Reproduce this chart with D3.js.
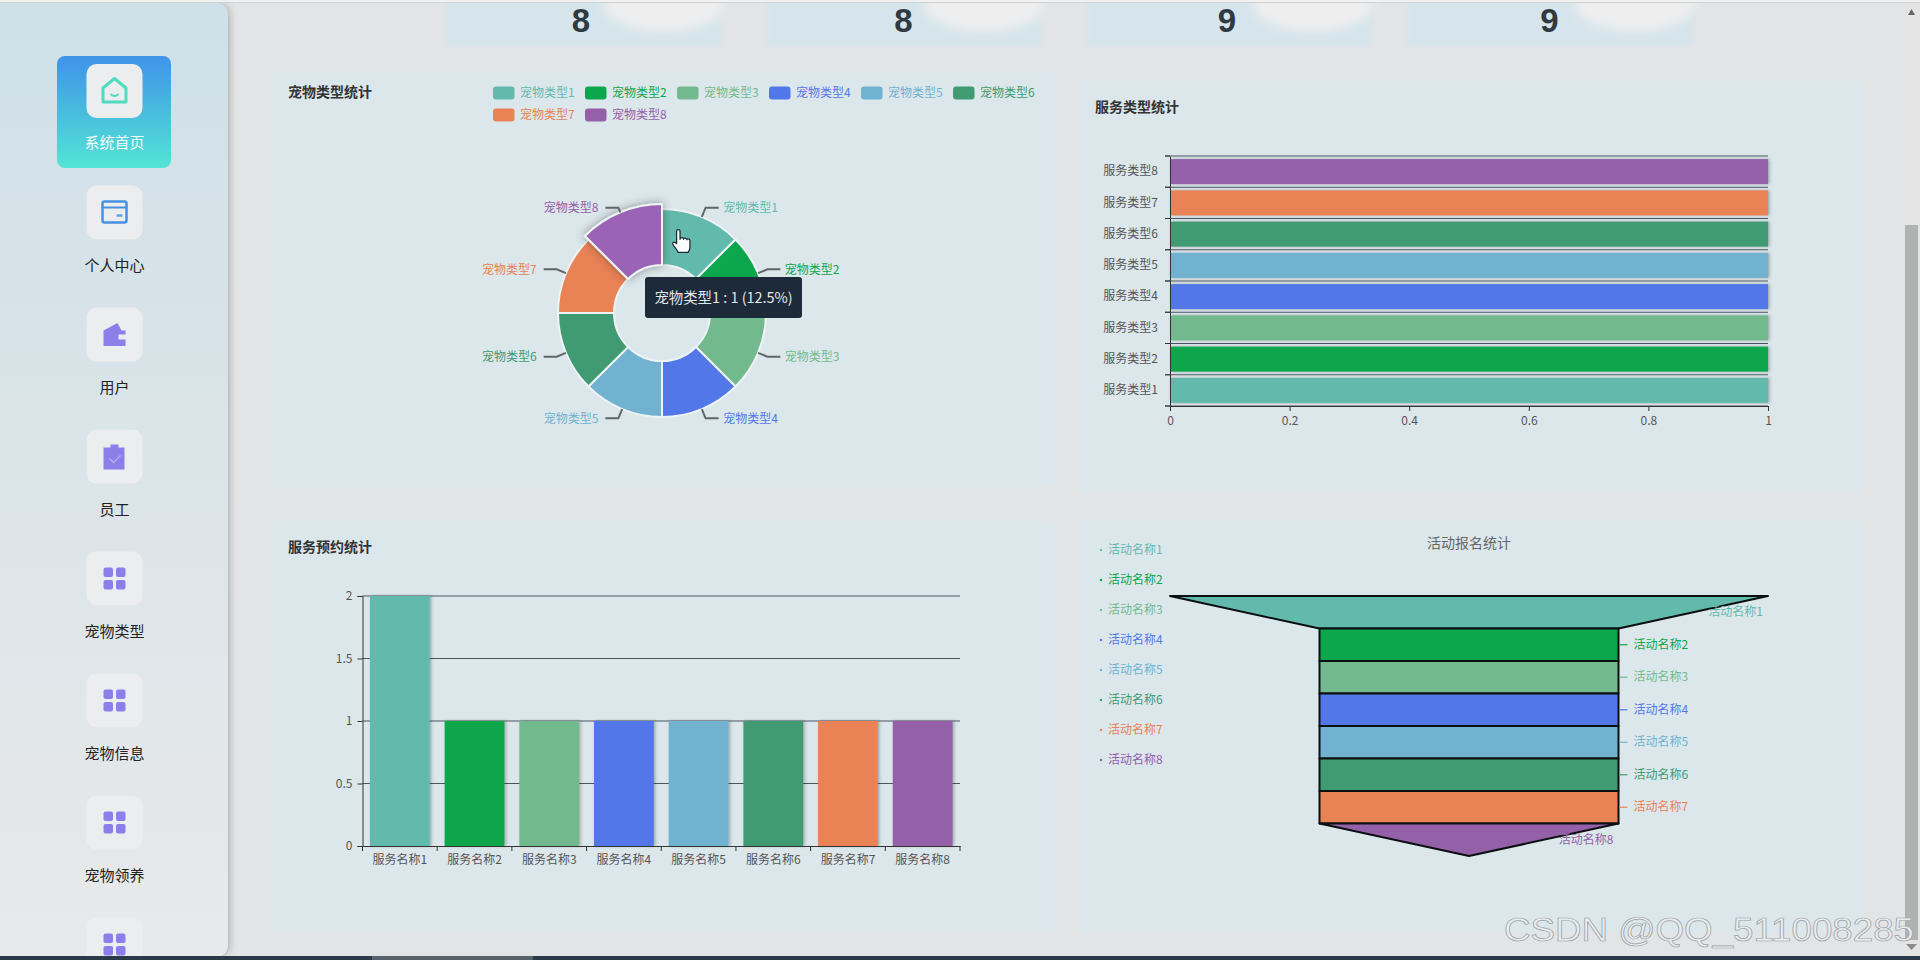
<!DOCTYPE html>
<html>
<head>
<meta charset="utf-8">
<title>宠物管理系统 - 首页</title>
<script src="https://cdnjs.cloudflare.com/ajax/libs/d3/7.8.5/d3.min.js"></script>
<style>
    html, body { margin: 0; padding: 0; width: 1920px; height: 960px; overflow: hidden; background: #e3e4e5; }
    svg { display: block; }
    text { font-family: "Noto Sans CJK SC", "Noto Sans", sans-serif; }
    .axis-label { font-size: 12px; fill: #555; }
    .card-title { font-size: 14px; font-weight: 700; fill: #333; }
</style>
</head>
<body>
<div id="page"></div>
<script>
// --- 1. Data ---
const menuNames = ['系统首页', '个人中心', '用户', '员工', '宠物类型', '宠物信息', '宠物领养', ''];
const statValues = [8, 8, 9, 9];

const petTypeNames = ['宠物类型1', '宠物类型2', '宠物类型3', '宠物类型4', '宠物类型5', '宠物类型6', '宠物类型7', '宠物类型8'];
const petTypeValues = [1, 1, 1, 1, 1, 1, 1, 1];

const serviceTypeNames = ['服务类型1', '服务类型2', '服务类型3', '服务类型4', '服务类型5', '服务类型6', '服务类型7', '服务类型8'];
const serviceTypeValues = [1, 1, 1, 1, 1, 1, 1, 1];
const serviceTypeTicks = [0, 0.2, 0.4, 0.6, 0.8, 1];

const bookingNames = ['服务名称1', '服务名称2', '服务名称3', '服务名称4', '服务名称5', '服务名称6', '服务名称7', '服务名称8'];
const bookingValues = [2, 1, 1, 1, 1, 1, 1, 1];
const bookingTicks = [0, 0.5, 1, 1.5, 2];

const activityNames = ['活动名称1', '活动名称2', '活动名称3', '活动名称4', '活动名称5', '活动名称6', '活动名称7', '活动名称8'];
const activityValues = [2, 1, 1, 1, 1, 1, 1, 1];

const palette = ['#62baac', '#0ca64c', '#72ba8d', '#5277e8', '#70b2d0', '#409a72', '#e98254', '#9460a8'];

// --- 2. Page setup ---
const width = 1920;
const height = 960;
const svg = d3.select('#page').append('svg').attr('width', width).attr('height', height);
const defs = svg.append('defs');

function verticalGradient(id, top, bottom) {
    const g = defs.append('linearGradient').attr('id', id)
        .attr('x1', 0).attr('y1', 0).attr('x2', 0).attr('y2', 1);
    g.append('stop').attr('offset', '0%').attr('stop-color', top);
    g.append('stop').attr('offset', '100%').attr('stop-color', bottom);
}
verticalGradient('sideFill', '#cfe0e8', '#e8e9ea');
verticalGradient('activeFill', '#4093ea', '#52e5d4');

function blurFilter(id, dev) {
    defs.append('filter').attr('id', id)
        .attr('x', '-20%').attr('y', '-40%').attr('width', '140%').attr('height', '180%')
        .append('feGaussianBlur').attr('stdDeviation', dev);
}
blurFilter('soft', 2);
blurFilter('softer', 5);

function shadowFilter(id, dx, dy, dev, opacity) {
    defs.append('filter').attr('id', id)
        .attr('x', '-30%').attr('y', '-30%').attr('width', '160%').attr('height', '160%')
        .append('feDropShadow')
        .attr('dx', dx).attr('dy', dy).attr('stdDeviation', dev)
        .attr('flood-color', '#333').attr('flood-opacity', opacity);
}
shadowFilter('barShadow', 1.5, 0, 1.6, 0.38);
shadowFilter('sliceShadow', 0, 0, 4, 0.5);
shadowFilter('sideShadow', 2, 0, 3, 0.28);

svg.append('rect').attr('width', width).attr('height', height).attr('fill', '#e3e4e5');

// --- 3. Top stat tiles ---
const tileSpans = [[446, 722], [767, 1042], [1087, 1371], [1408, 1693]];
const tileNudge = [-3, -1, -2, -1];
const tiles = svg.append('g').selectAll('g').data(statValues).join('g');
tiles.append('rect')
    .attr('x', (d, i) => tileSpans[i][0])
    .attr('y', -6)
    .attr('width', (d, i) => tileSpans[i][1] - tileSpans[i][0])
    .attr('height', 53)
    .attr('fill', '#d6e5ec')
    .attr('filter', 'url(#soft)');
tiles.append('ellipse')
    .attr('cx', (d, i) => tileSpans[i][1] - 58)
    .attr('cy', 4)
    .attr('rx', 60)
    .attr('ry', 27)
    .attr('fill', '#eeeeef')
    .attr('filter', 'url(#softer)');
tiles.append('text')
    .attr('x', (d, i) => (tileSpans[i][0] + tileSpans[i][1]) / 2 + tileNudge[i])
    .attr('y', 32)
    .attr('text-anchor', 'middle')
    .attr('font-size', 33)
    .attr('font-weight', 700)
    .attr('fill', '#2f3a42')
    .style('font-family', '"Liberation Sans", sans-serif')
    .text(d => d);

// --- 4. Cards ---
const cards = [
    { x: 270, y: 70, w: 785, h: 417 },
    { x: 1078, y: 81, w: 785, h: 412 },
    { x: 270, y: 520, w: 785, h: 413 },
    { x: 1078, y: 520, w: 785, h: 413 }
];
svg.append('g').selectAll('rect').data(cards).join('rect')
    .attr('x', d => d.x).attr('y', d => d.y)
    .attr('width', d => d.w).attr('height', d => d.h)
    .attr('fill', '#dce7ec')
    .attr('filter', 'url(#soft)');

function cardTitle(x, y, label) {
    svg.append('text').attr('class', 'card-title').attr('x', x).attr('y', y)
        .attr('dy', '0.35em').text(label);
}

// --- 5. Pet type donut ---
cardTitle(288, 92, '宠物类型统计');

const legendX = d3.scalePoint().domain(d3.range(6)).range([493, 953]);
const legend = svg.append('g').selectAll('g').data(petTypeNames).join('g')
    .attr('transform', (d, i) => `translate(${legendX(i % 6)},${i < 6 ? 93 : 115})`);
legend.append('rect')
    .attr('y', -6.5).attr('width', 21.5).attr('height', 13).attr('rx', 3)
    .attr('fill', (d, i) => palette[i]);
legend.append('text')
    .attr('x', 27).attr('dy', '0.35em').attr('font-size', 12)
    .attr('fill', (d, i) => palette[i])
    .text(d => d);

const pieCx = 662;
const pieCy = 313;
const innerR = 48;
const outerR = 104;
const hoverIndex = 7; // the enlarged slice in the screenshot
const pieSlices = d3.pie().sort(null)(petTypeValues);
const sliceOuter = i => (i === hoverIndex ? outerR + 5 : outerR);
const arcPath = d3.arc().innerRadius(innerR).outerRadius((d) => sliceOuter(d.index));

const pieGroup = svg.append('g').attr('transform', `translate(${pieCx},${pieCy})`);
pieGroup.selectAll('path').data(pieSlices).join('path')
    .attr('d', arcPath)
    .attr('fill', d => (d.index === hoverIndex ? '#9b63b5' : palette[d.index]))
    .attr('stroke', '#eef3f4')
    .attr('stroke-width', 2)
    .attr('filter', d => (d.index === hoverIndex ? 'url(#sliceShadow)' : null));
// hovered slice goes on top of its neighbours
pieGroup.selectAll('path').filter(d => d.index === hoverIndex).raise();

const leaders = pieGroup.append('g').selectAll('g').data(pieSlices).join('g');
function polar(angle, r) {
    return [Math.sin(angle) * r, -Math.cos(angle) * r];
}
leaders.append('path')
    .attr('fill', 'none')
    .attr('stroke', '#5f6669')
    .attr('stroke-width', 2)
    .attr('d', d => {
        const mid = (d.startAngle + d.endAngle) / 2;
        const side = Math.sin(mid) > 0 ? 1 : -1;
        const p0 = polar(mid, sliceOuter(d.index));
        const p1 = polar(mid, outerR + 10);
        return `M${p0}L${p1}L${p1[0] + side * 13},${p1[1]}`;
    });
leaders.append('text')
    .attr('font-size', 12)
    .attr('dy', '0.35em')
    .attr('fill', d => palette[d.index])
    .attr('text-anchor', d => (Math.sin((d.startAngle + d.endAngle) / 2) > 0 ? 'start' : 'end'))
    .attr('transform', d => {
        const mid = (d.startAngle + d.endAngle) / 2;
        const side = Math.sin(mid) > 0 ? 1 : -1;
        const p1 = polar(mid, outerR + 10);
        return `translate(${p1[0] + (side > 0 ? 17.5 : -20)},${p1[1]})`;
    })
    .text((d, i) => petTypeNames[i]);

// tooltip as it was caught in the screenshot
const petTotal = d3.sum(petTypeValues);
svg.append('rect').attr('x', 645).attr('y', 277).attr('width', 157).attr('height', 41)
    .attr('rx', 3).attr('fill', '#1c2a3a');
svg.append('text').attr('x', 723.5).attr('y', 297.5).attr('dy', '0.35em')
    .attr('text-anchor', 'middle').attr('font-size', 14.4).attr('fill', '#e6e8ea')
    .text(`${petTypeNames[0]} : ${petTypeValues[0]} (${d3.format('.1f')(petTypeValues[0] / petTotal * 100)}%)`);

// hand cursor
svg.append('path')
    .attr('transform', 'translate(672,229) scale(1.15)')
    .attr('fill', '#fff').attr('stroke', '#1d2b33').attr('stroke-width', 1.1).attr('stroke-linejoin', 'round')
    .attr('d', 'M4 2c0-2 3-2 3 0v7c0-2 3-2 3 0 0-1.6 3-1.6 3 .4 0-1.4 2.6-1.2 2.6 .8v5.8c0 2-1 3-1.6 4.4H5.4C4 17 .6 14.4 .6 12.6c0-1.8 2-1.6 3.4 .2z');

// --- 6. Service type bars (horizontal) ---
cardTitle(1095, 107, '服务类型统计');

const svcX = d3.scaleLinear().domain([0, 1]).range([1170, 1768]);
const svcY = d3.scaleBand().domain(serviceTypeNames.slice().reverse()).range([156, 406])
    .paddingInner(0.2).paddingOuter(0.1);
const svcLines = svg.append('g');
svcLines.selectAll('line').data(d3.range(serviceTypeNames.length + 1)).join('line')
    .attr('x1', svcX.range()[0] - 5)
    .attr('x2', svcX.range()[1])
    .attr('y1', d => svcY.range()[0] + d * svcY.step())
    .attr('y2', d => svcY.range()[0] + d * svcY.step())
    .attr('stroke', '#4a5560');

svg.append('g').selectAll('rect').data(serviceTypeNames).join('rect')
    .attr('x', svcX(0))
    .attr('y', d => svcY(d))
    .attr('width', (d, i) => svcX(serviceTypeValues[i]) - svcX(0))
    .attr('height', svcY.bandwidth())
    .attr('fill', (d, i) => palette[i])
    .attr('filter', 'url(#barShadow)');

svg.append('g')
    .attr('transform', `translate(${svcX(0)},0)`)
    .call(d3.axisLeft(svcY).tickSize(0).tickPadding(12))
    .call(styleAxis);
svg.append('g')
    .attr('transform', `translate(0,${svcY.range()[1]})`)
    .call(d3.axisBottom(svcX).tickValues(serviceTypeTicks).tickFormat(d3.format('~g')).tickSize(5).tickPadding(5))
    .call(styleAxis);

function styleAxis(sel) {
    sel.attr('font-family', null).attr('font-size', null);
    sel.selectAll('text').attr('class', 'axis-label');
    sel.selectAll('path,line').attr('stroke', '#333');
}

// --- 7. Service booking bars (vertical) ---
cardTitle(288, 547, '服务预约统计');

const bookX = d3.scaleBand().domain(bookingNames).range([362.5, 960])
    .paddingInner(0.2).paddingOuter(0.1);
const bookY = d3.scaleLinear().domain([0, 2]).range([846, 596]);

svg.append('g').selectAll('line').data(bookingTicks.filter(d => d > 0)).join('line')
    .attr('x1', bookX.range()[0])
    .attr('x2', bookX.range()[1])
    .attr('y1', d => bookY(d))
    .attr('y2', d => bookY(d))
    .attr('stroke', '#4a5560');

svg.append('g').selectAll('rect').data(bookingNames).join('rect')
    .attr('x', d => bookX(d))
    .attr('y', (d, i) => bookY(bookingValues[i]))
    .attr('width', bookX.bandwidth())
    .attr('height', (d, i) => bookY(0) - bookY(bookingValues[i]))
    .attr('fill', (d, i) => palette[i])
    .attr('filter', 'url(#barShadow)');

svg.append('g')
    .attr('transform', `translate(${bookX.range()[0]},0)`)
    .call(d3.axisLeft(bookY).tickValues(bookingTicks).tickFormat(d3.format('~g')).tickSize(5).tickPadding(5))
    .call(styleAxis);
svg.append('g')
    .attr('transform', `translate(0,${bookY(0)})`)
    .call(d3.axisBottom(bookX).tickSize(0).tickPadding(9))
    .call(styleAxis);
// category ticks sit on the band edges
svg.append('g').selectAll('line').data(d3.range(bookingNames.length + 1)).join('line')
    .attr('x1', d => bookX.range()[0] + d * bookX.step())
    .attr('x2', d => bookX.range()[0] + d * bookX.step())
    .attr('y1', bookY(0))
    .attr('y2', bookY(0) + 5)
    .attr('stroke', '#333');
// and the same for the service type chart
svg.append('g').selectAll('line').data(d3.range(serviceTypeNames.length + 1)).join('line')
    .attr('x1', svcX(0) - 5)
    .attr('x2', svcX(0))
    .attr('y1', d => svcY.range()[0] + d * svcY.step())
    .attr('y2', d => svcY.range()[0] + d * svcY.step())
    .attr('stroke', '#333');

// --- 8. Activity funnel ---
svg.append('text').attr('x', 1469).attr('y', 543).attr('dy', '0.35em')
    .attr('text-anchor', 'middle').attr('font-size', 14).attr('fill', '#666')
    .text('活动报名统计');

const actLegendY = d3.scalePoint().domain(activityNames).range([550, 760]);
const actLegend = svg.append('g').selectAll('g').data(activityNames).join('g')
    .attr('transform', d => `translate(1101,${actLegendY(d)})`);
actLegend.append('circle').attr('r', 1.2).attr('fill', (d, i) => palette[i]);
actLegend.append('text').attr('x', 7).attr('dy', '0.35em').attr('font-size', 12)
    .attr('fill', (d, i) => palette[i]).text(d => d);

const funnelCx = 1469;
const funnelW = d3.scaleLinear().domain([0, d3.max(activityValues)]).range([0, 598]);
const funnelY = d3.scaleBand().domain(activityNames).range([596, 856]);
const nextValue = i => (i + 1 < activityValues.length ? activityValues[i + 1] : 0);

svg.append('g').selectAll('path').data(activityNames).join('path')
    .attr('d', (d, i) => {
        const top = funnelY(d);
        const bot = top + funnelY.bandwidth();
        const w0 = funnelW(activityValues[i]) / 2;
        const w1 = funnelW(nextValue(i)) / 2;
        return `M${funnelCx - w0},${top}L${funnelCx + w0},${top}L${funnelCx + w1},${bot}L${funnelCx - w1},${bot}Z`;
    })
    .attr('fill', (d, i) => palette[i])
    .attr('stroke', '#0b0f12')
    .attr('stroke-width', 2)
    .attr('stroke-linejoin', 'round');

const funnelLabels = svg.append('g').selectAll('g').data(activityNames).join('g')
    .attr('transform', (d, i) => {
        const half = (funnelW(activityValues[i]) + funnelW(nextValue(i))) / 4;
        return `translate(${funnelCx + half},${funnelY(d) + funnelY.bandwidth() / 2})`;
    });
// first and last leaders are lost against the slanted edges in the screenshot
funnelLabels.filter((d, i) => i > 0 && i < activityNames.length - 1).append('line')
    .attr('x1', 1).attr('x2', 9)
    .attr('stroke', d => palette[activityNames.indexOf(d)]).attr('stroke-width', 1.2);
funnelLabels.append('text').attr('x', 15).attr('dy', '0.35em').attr('font-size', 12)
    .attr('fill', (d, i) => palette[i]).text(d => d);

// --- 9. Sidebar ---
const sideW = 228;
svg.append('path')
    .attr('d', `M0,3H${sideW - 14}Q${sideW},3 ${sideW},17V943Q${sideW},957 ${sideW - 14},957H0Z`)
    .attr('fill', 'url(#sideFill)')
    .attr('filter', 'url(#sideShadow)');

svg.append('rect').attr('x', 57).attr('y', 56).attr('width', 114).attr('height', 112).attr('rx', 8)
    .attr('fill', 'url(#activeFill)');

const menuY = d3.scaleLinear().domain([0, 1]).range([212.5, 334.5]);
const menuCentre = i => (i === 0 ? 91 : menuY(i - 1));
const menu = svg.append('g').selectAll('g').data(menuNames).join('g')
    .attr('transform', (d, i) => `translate(114.5,${menuCentre(i)})`);
menu.append('rect').attr('x', -28).attr('y', -27).attr('width', 56).attr('height', 54).attr('rx', 10)
    .attr('fill', '#ecedee');
menu.append('text').attr('y', (d, i) => (i === 0 ? 52 : 53)).attr('dy', '0.35em')
    .attr('text-anchor', 'middle').attr('font-size', 15)
    .attr('fill', (d, i) => (i === 0 ? '#f2fbfb' : '#222'))
    .text(d => d);

const purple = '#8e7eea';
menu.each(function(d, i) {
    const g = d3.select(this);
    if (i === 0) {
        g.append('path').attr('fill', 'none').attr('stroke', '#4fdcc0').attr('stroke-width', 3).attr('stroke-linejoin', 'round')
            .attr('d', 'M0,-12.5L11.5,-3V11H-11.5V-3Z');
        g.append('path').attr('fill', 'none').attr('stroke', '#4fdcc0').attr('stroke-width', 2).attr('d', 'M-4,3Q0,7 4,3');
    } else if (i === 1) {
        g.append('rect').attr('x', -12).attr('y', -11).attr('width', 24).attr('height', 21).attr('rx', 2)
            .attr('fill', 'none').attr('stroke', '#4a90e2').attr('stroke-width', 2.5);
        g.append('line').attr('x1', -12).attr('x2', 12).attr('y1', -5).attr('y2', -5).attr('stroke', '#4a90e2').attr('stroke-width', 2);
        g.append('line').attr('x1', 2).attr('x2', 8).attr('y1', 3).attr('y2', 3).attr('stroke', '#5fa5d8').attr('stroke-width', 2.5);
    } else if (i === 2) {
        g.append('path').attr('fill', purple)
            .attr('d', 'M-11,-4L3,-11.5L7,-4H11V0H4V5H11V11.5H-11Z');
    } else if (i === 3) {
        g.append('path').attr('fill', purple)
            .attr('d', 'M-11,-9H-4V-12H4V-9H10V13H-11Z');
        g.append('path').attr('fill', 'none').attr('stroke', '#b7adf3').attr('stroke-width', 1.4)
            .attr('d', 'M-5,2L-1,6L6,-1');
    } else {
        const cells = [[-11, -11], [1.5, -11], [-11, 1.5], [1.5, 1.5]];
        g.selectAll('rect.cell').data(cells).join('rect').attr('class', 'cell')
            .attr('x', c => c[0]).attr('y', c => c[1])
            .attr('width', 9.5).attr('height', 9.5).attr('rx', 2)
            .attr('fill', purple);
    }
});

// --- 10. Window chrome ---
svg.append('rect').attr('width', width).attr('height', 2).attr('fill', '#f1f1f1');
svg.append('rect').attr('y', 2).attr('width', width).attr('height', 1).attr('fill', '#cfd2d3');

svg.append('rect').attr('x', 1905).attr('y', 3).attr('width', 15).attr('height', 953).attr('fill', '#e4e4e4');
svg.append('rect').attr('x', 1905).attr('y', 225).attr('width', 13).attr('height', 715).attr('fill', '#b1b3b3');
svg.append('path').attr('d', 'M1908,15L1911.5,9L1915,15Z').attr('fill', '#666');
svg.append('path').attr('d', 'M1906,944L1911.5,950L1917,944Z').attr('fill', '#8a8d8f');

svg.append('rect').attr('y', 956).attr('width', width).attr('height', 4).attr('fill', '#2a3a48');
svg.append('rect').attr('x', 372).attr('y', 956).attr('width', 161).attr('height', 4).attr('fill', '#56616a');

// watermark
svg.append('text').attr('x', 1504).attr('y', 941)
    .attr('font-size', 32.5)
    .attr('fill', '#e9ecee').attr('stroke', '#9aa0a4').attr('stroke-width', 0.7)
    .attr('textLength', 410).attr('lengthAdjust', 'spacingAndGlyphs')
    .style('font-family', '"Liberation Sans", sans-serif')
    .text('CSDN @QQ_511008285');
</script>
</body>
</html>
